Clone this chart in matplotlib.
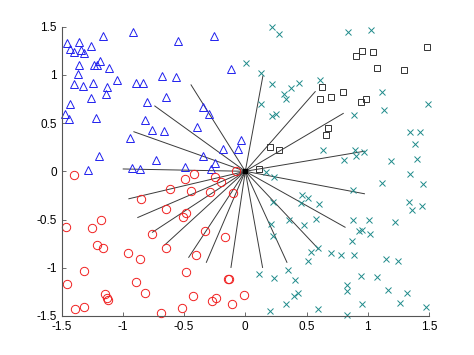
import matplotlib
matplotlib.use("Agg")
import matplotlib.pyplot as plt

# class 1: blue triangles
tri_x = [-1.459, -1.359, -1.16, -0.916, -0.549, -0.258, -1.432, -1.397, -1.345, -1.315,
         -1.258, -1.356, -1.236, -1.209, -1.188, -1.109, -1.37, -1.397, -1.329, -1.245,
         -1.133, -1.049, -1.136, -1.258, -1.432, -1.473, -1.443, -1.22, -0.889, -0.832,
         -0.679, -0.568, -0.114, -0.647, -0.802, -0.823, -0.758, -0.66, -0.938, -0.345,
         -0.296, -0.397, -0.038, -0.185, -0.063, -0.342, -0.247, -1.196, -0.726, -1.283,
         -0.929, -0.861, -0.492, -0.277]
tri_y = [1.33, 1.337, 1.40, 1.44, 1.347, 1.406, 1.264, 1.24, 1.26, 1.226,
         1.295, 1.10, 1.104, 1.097, 1.146, 1.069, 1.007, 0.906, 0.885, 0.92,
         0.87, 0.948, 0.80, 0.764, 0.694, 0.59, 0.538, 0.549, 0.917, 0.917,
         0.983, 0.976, 1.062, 0.771, 0.715, 0.528, 0.427, 0.417, 0.34, 0.663,
         0.59, 0.455, 0.326, 0.233, 0.233, 0.156, 0.087, 0.156, 0.118, 0.017,
         0.031, 0.024, 0.049, 0.028]

# class 2: red circles
circ_x = [-1.399, -1.462, -1.25, -1.18, -1.215, -1.163, -1.454, -1.32, -1.391, -1.318,
          -1.147, -1.133, -1.125, -0.954, -0.861, -0.894, -0.823, -0.685, -0.516, -0.427,
          -0.484, -0.405, -0.647, -0.764, -0.649, -0.848, -0.617, -0.489, -0.418, -0.44,
          -0.481, -0.505, -0.332, -0.285, -0.247, -0.201, -0.098, -0.076, -0.163, -0.141,
          -0.136, -0.239, -0.269, -0.106, -0.011]
circ_y = [-0.042, -0.58, -0.59, -0.51, -0.764, -0.795, -1.17, -1.038, -1.424, -1.406,
          -1.274, -1.309, -1.33, -0.847, -0.913, -1.153, -1.26, -1.465, -1.413, -1.295,
          -1.049, -0.872, -0.795, -0.653, -0.392, -0.285, -0.188, -0.076, -0.024, -0.208,
          -0.434, -0.469, -0.622, -0.212, -0.059, -0.111, -0.222, 0.0, -0.684, -1.12,
          -1.115, -1.309, -1.344, -1.372, -1.278]

# class 3: teal crosses
cross_x = [0.215, 0.272, 0.842, 1.024, 0.003, 0.128, 0.22, 0.313, 0.329, 0.375,
           0.44, 0.614, 0.128, 0.22, 0.25, 0.886, 1.12, 1.133, 1.49, 1.348,
           1.429, 1.386, 1.402, 1.19, 1.348, 0.633, 0.897, 0.97, 0.9, 0.81,
           0.171, 0.231, 1.12, 1.454, 0.883, 0.465, 0.516, 0.451, 0.606, 0.223,
           1.34, 1.359, 1.44, 0.361, 0.476, 0.579, 0.878, 1.014, 1.223, 0.212,
           0.932, 0.954, 1.019, 0.223, 0.872, 0.533, 0.59, 0.696, 0.785, 0.891,
           0.514, 1.149, 1.245, 0.109, 0.231, 0.345, 0.408, 0.943, 1.073, 0.834,
           0.829, 1.163, 1.318, 0.427, 0.394, 0.334, 0.59, 0.951, 1.264, 1.476,
           0.204, 0.829]
cross_y = [1.497, 1.424, 1.441, 1.462, 1.12, 1.024, 0.91, 0.802, 0.747, 0.865,
           0.913, 0.948, 0.694, 0.576, 0.59, 0.583, 0.823, 0.635, 0.694, 0.406,
           0.406, 0.278, 0.132, 0.108, -0.033, 0.222, 0.219, 0.205, 0.163, 0.118,
           -0.01, -0.062, -0.118, -0.135, -0.191, -0.247, -0.274, -0.33, -0.344, -0.316,
           -0.32, -0.406, -0.365, -0.503, -0.556, -0.49, -0.5, -0.503, -0.521, -0.545,
           -0.615, -0.604, -0.649, -0.67, -0.722, -0.833, -0.799, -0.851, -0.865, -0.872,
           -0.934, -0.913, -0.927, -1.066, -1.104, -1.021, -1.128, -1.087, -1.097, -1.18,
           -1.24, -1.226, -1.26, -1.264, -1.295, -1.372, -1.424, -1.372, -1.365, -1.406,
           -1.451, -1.493]

# class 4: black squares
sq_x = [0.905, 0.951, 1.046, 1.486, 1.073, 1.296, 0.63, 0.614, 0.704, 0.799,
        0.943, 0.986, 0.674, 0.663, 0.198, 0.274, 0.109]
sq_y = [1.198, 1.25, 1.233, 1.285, 1.076, 1.049, 0.878, 0.747, 0.767, 0.819,
        0.715, 0.75, 0.451, 0.375, 0.25, 0.219, 0.028]

# end points of the rays drawn from the origin
ray_x = [0.144, 0.571, 0.80, 0.973, 0.973, 0.815, 0.598, 0.34, 0.141, -0.117,
         -0.318, -0.462, -0.658, -0.758, -0.878, -0.951, -0.997, -0.91, -0.739, -0.443]
ray_y = [0.99, 0.826, 0.60, 0.208, -0.233, -0.58, -0.806, -0.944, -0.997, -0.997,
         -0.944, -0.892, -0.764, -0.632, -0.479, -0.285, 0.024, 0.41, 0.677, 0.896]

plt.rcParams["font.family"] = ["Liberation Sans", "DejaVu Sans"]
plt.rcParams["axes.unicode_minus"] = False

fig = plt.figure(figsize=(4.74, 3.55), dpi=100)
ax = fig.add_axes([0.13, 0.11, 0.775, 0.815])

for ex, ey in zip(ray_x, ray_y):
    ax.plot([0, ex], [0, ey], color="#3a3a3a", linewidth=0.7)

marker_kw = dict(linestyle="none", clip_on=False, markeredgewidth=0.7)
ax.plot(tri_x, tri_y, "^", markerfacecolor="none", markeredgecolor="#2020ee",
        markersize=6, **marker_kw)
ax.plot(circ_x, circ_y, "o", markerfacecolor="none", markeredgecolor="#f02020",
        markersize=6, **marker_kw)
ax.plot(cross_x, cross_y, "x", color="#1f8a8a", markersize=4, **marker_kw)
ax.plot(sq_x, sq_y, "s", markerfacecolor="none", markeredgecolor="#333333",
        markersize=4.5, **marker_kw)
ax.plot([0], [0], "s", color="black", markersize=2.5)

ax.set_xlim(-1.5, 1.5)
ax.set_ylim(-1.5, 1.5)
ticks = [-1.5, -1, -0.5, 0, 0.5, 1, 1.5]
tick_labels = ["-1.5", "-1", "-0.5", "0", "0.5", "1", "1.5"]
ax.set_xticks(ticks)
ax.set_yticks(ticks)
ax.set_xticklabels(tick_labels)
ax.set_yticklabels(tick_labels)
ax.spines["top"].set_visible(False)
ax.spines["right"].set_visible(False)
for s in ["left", "bottom"]:
    ax.spines[s].set_color("#555555")
    ax.spines[s].set_linewidth(0.8)
ax.tick_params(direction="in", length=3, width=0.6, colors="#555555",
               labelcolor="black", labelsize=8.5)

fig.savefig("out.png", dpi=100)
